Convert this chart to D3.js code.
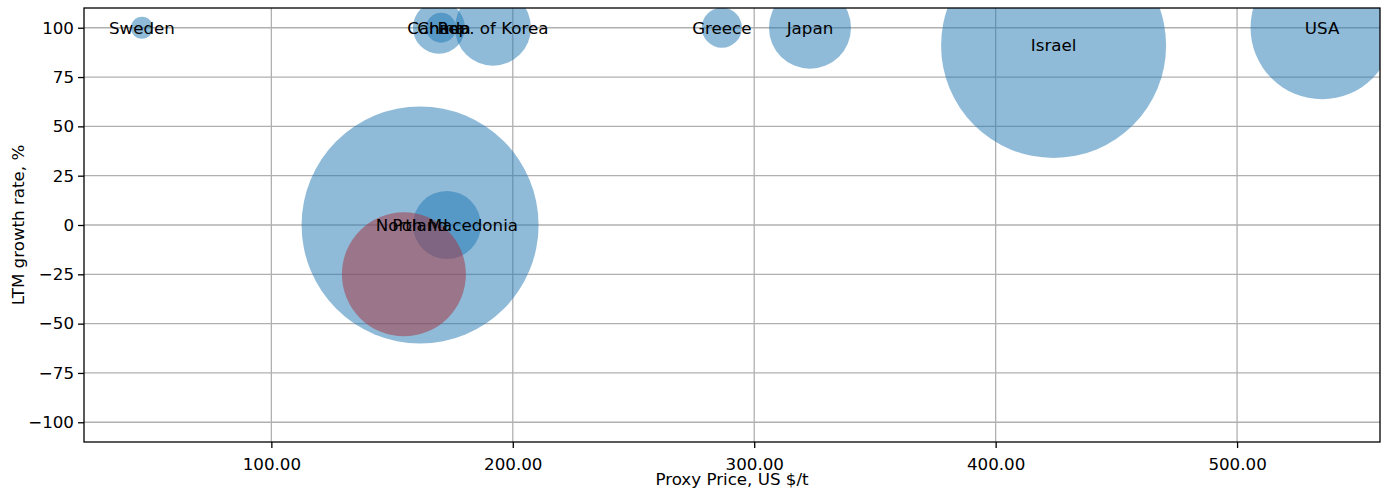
<!DOCTYPE html>
<meta charset="utf-8">
<style>
body { margin: 0; background: #fff; }
text { font-family: 'DejaVu Sans', sans-serif; fill: #000; }
.grid line { stroke: #b0b0b0; stroke-width: 1.3px; }
.axis path, .axis line { stroke: #000; stroke-width: 1.3px; }
.axis text { font-size: 16.7px; }
</style>
<body>
<svg width="1387" height="488"></svg>
<script src="https://d3js.org/d3.v7.min.js"></script>
<script>

// bubble data
var countries = ["Poland", "Sweden", "Canada", "China", "Rep. of Korea", "Greece", "Japan", "Israel", "USA", "North Macedonia", ""];
var price  = [161.6, 46.4, 169.4, 170.3, 191.8, 286.6, 323.1, 424.0, 535.2, 172.7, 154.9];
var growth = [0, 100, 100, 100, 100, 100, 100, 91, 100, 0, -25];
var volume = [14000, 121, 674, 224, 1440, 399, 1676, 12618, 5097, 1153, 3832];
var highlight = [false, false, false, false, false, false, false, false, false, false, true];

var xTicks = [100, 200, 300, 400, 500];
var yTicks = [-100, -75, -50, -25, 0, 25, 50, 75, 100];

var svg = d3.select("svg"),
    margin = {left: 84, right: 7, top: 8, bottom: 46},
    width = +svg.attr("width") - margin.left - margin.right,
    height = +svg.attr("height") - margin.top - margin.bottom;

var x = d3.scaleLinear().domain([22.4, 559.2]).range([0, width]),
    y = d3.scaleLinear().domain([-110, 110]).range([height, 0]),
    r = d3.scaleSqrt().domain([0, 14000]).range([0, 118.5]);

var data = countries.map(function(c, i) {
  return {name: c, x: price[i], y: growth[i], v: volume[i], hl: highlight[i]};
});

var g = svg.append("g").attr("transform", "translate(" + margin.left + "," + margin.top + ")");

g.append("clipPath").attr("id", "clip")
  .append("rect").attr("width", width).attr("height", height);

// grid
g.append("g").attr("class", "grid")
  .selectAll("line.v").data(xTicks).enter().append("line")
  .attr("x1", d => x(d)).attr("x2", d => x(d))
  .attr("y1", 0).attr("y2", height);
g.select(".grid")
  .selectAll("line.h").data(yTicks).enter().append("line")
  .attr("y1", d => y(d)).attr("y2", d => y(d))
  .attr("x1", 0).attr("x2", width);

// bubbles
g.append("g").attr("clip-path", "url(#clip)")
  .selectAll("circle").data(data).enter().append("circle")
  .attr("cx", d => x(d.x))
  .attr("cy", d => y(d.y))
  .attr("r", d => r(d.v))
  .attr("fill", d => d.hl ? "#a8323c" : "#1f77b4")
  .attr("fill-opacity", 0.5);

// labels
g.append("g").attr("clip-path", "url(#clip)")
  .selectAll("text").data(data.filter(d => d.name)).enter().append("text")
  .attr("x", d => x(d.x))
  .attr("y", d => y(d.y))
  .attr("dy", "0.36em")
  .attr("text-anchor", "middle")
  .style("font-size", "16.7px")
  .text(d => d.name);

// axes
var xAxis = g.append("g").attr("class", "axis")
  .attr("transform", "translate(0," + height + ")")
  .call(d3.axisBottom(x).tickValues(xTicks).tickFormat(d3.format(".2f")).tickSize(6).tickPadding(10).tickSizeOuter(0));
var yAxis = g.append("g").attr("class", "axis")
  .call(d3.axisLeft(y).tickValues(yTicks).tickSize(6).tickPadding(4).tickSizeOuter(0));
xAxis.select(".domain").remove();
yAxis.select(".domain").remove();

// spines
g.append("rect").attr("width", width).attr("height", height)
  .attr("fill", "none").attr("stroke", "#000").attr("stroke-width", 1.3);

g.append("text")
  .attr("x", width / 2).attr("y", height + 43)
  .attr("text-anchor", "middle")
  .style("font-size", "16.7px")
  .text("Proxy Price, US $/t");

g.append("text")
  .attr("transform", "translate(" + (-60) + "," + (height / 2) + ") rotate(-90)")
  .attr("text-anchor", "middle")
  .style("font-size", "16.7px")
  .text("LTM growth rate, %");

</script>
